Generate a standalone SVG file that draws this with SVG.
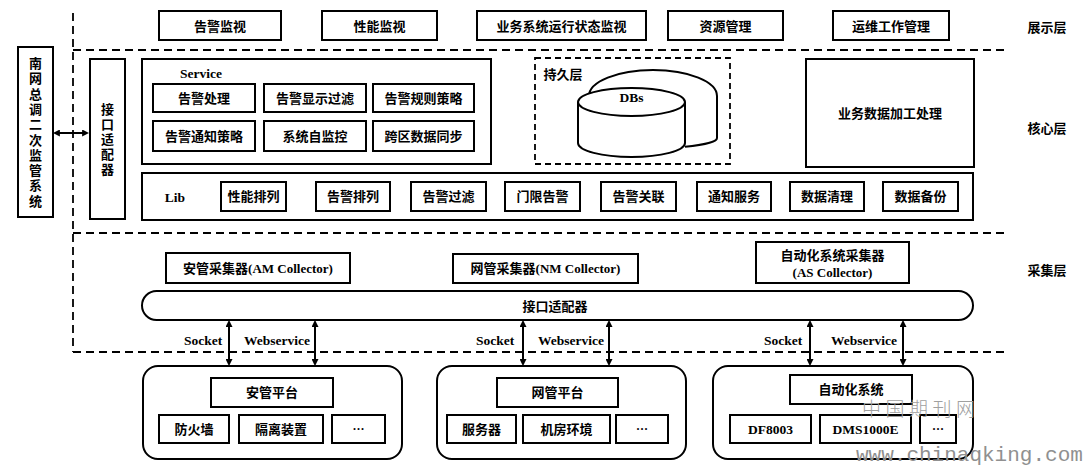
<svg xmlns="http://www.w3.org/2000/svg" width="1087" height="467" viewBox="0 0 1087 467">
<style>
.box{fill:#fff;stroke:#000;stroke-width:2}
.dash{fill:none;stroke:#000;stroke-width:1.8;stroke-dasharray:8 5}
.dash2{fill:none;stroke:#000;stroke-width:1.8;stroke-dasharray:6 4}
.ln{fill:none;stroke:#000;stroke-width:2}
text{font-family:"Liberation Serif","Noto Sans CJK SC",serif;font-weight:bold;font-size:13px;text-anchor:middle;dominant-baseline:central;fill:#000}
.lat{font-size:13.5px}
.dots{font-size:12px}
.wm{font-family:"Noto Sans CJK SC",sans-serif;font-weight:300;font-size:19px;fill:#a0a0a0;text-anchor:start}
.wm2{font-family:"Liberation Mono",monospace;font-weight:normal;font-size:21px;fill:#909090;text-anchor:start;dominant-baseline:auto}
</style>
<defs>
<marker id="ah" viewBox="0 0 10 10" refX="7" refY="5" markerWidth="7" markerHeight="7" orient="auto-start-reverse" markerUnits="userSpaceOnUse"><path d="M0,0 L10,5 L0,10 z" fill="#000"/></marker>
</defs>

<g id="layers">
<line class="dash" x1="73" y1="13" x2="73" y2="352"/>
<line class="dash" x1="73" y1="50" x2="1007" y2="50"/>
<line class="dash" x1="73" y1="233" x2="1007" y2="233"/>
<line class="dash" x1="73" y1="352" x2="1007" y2="352"/>
<text x="1047" y="27">展示层</text>
<text x="1047" y="128">核心层</text>
<text x="1047" y="270">采集层</text>
</g>

<g id="display">
<g id="n-gjjs"><rect class="box" x="159" y="11" width="122" height="29"/><text x="220" y="26">告警监视</text></g>
<g id="n-xnjs"><rect class="box" x="322" y="11" width="115" height="29"/><text x="379.5" y="26">性能监视</text></g>
<g id="n-ywxt"><rect class="box" x="477" y="11" width="169" height="29"/><text x="561.5" y="26">业务系统运行状态监视</text></g>
<g id="n-zygl"><rect class="box" x="668" y="11" width="115" height="29"/><text x="725.5" y="26">资源管理</text></g>
<g id="n-ywgz"><rect class="box" x="833" y="11" width="116" height="29"/><text x="891" y="26">运维工作管理</text></g>
</g>

<g id="n-nanwang"><rect class="box" x="18" y="47" width="35" height="170"/>
<text x="35.5" y="63"><tspan x="35.5" dy="0">南</tspan><tspan x="35.5" dy="15.3">网</tspan><tspan x="35.5" dy="15.3">总</tspan><tspan x="35.5" dy="15.3">调</tspan><tspan x="35.5" dy="15.3">二</tspan><tspan x="35.5" dy="15.3">次</tspan><tspan x="35.5" dy="15.3">监</tspan><tspan x="35.5" dy="15.3">管</tspan><tspan x="35.5" dy="15.3">系</tspan><tspan x="35.5" dy="15.3">统</tspan></text>
</g>

<g id="n-jiekou1"><rect class="box" x="90" y="59" width="35" height="160"/>
<text x="107.5" y="109"><tspan x="107.5" dy="0">接</tspan><tspan x="107.5" dy="15">口</tspan><tspan x="107.5" dy="15">适</tspan><tspan x="107.5" dy="15">配</tspan><tspan x="107.5" dy="15">器</tspan></text>
</g>

<g id="n-service">
<rect class="box" x="142" y="59" width="349" height="105"/>
<text class="lat" x="201" y="73">Service</text>
<rect class="box" x="153" y="84" width="102" height="28"/><text x="204" y="98">告警处理</text>
<rect class="box" x="264" y="84" width="102" height="28"/><text x="315" y="98">告警显示过滤</text>
<rect class="box" x="373" y="84" width="101" height="28"/><text x="423.5" y="98">告警规则策略</text>
<rect class="box" x="153" y="121" width="102" height="30"/><text x="204" y="136">告警通知策略</text>
<rect class="box" x="264" y="121" width="102" height="30"/><text x="315" y="136">系统自监控</text>
<rect class="box" x="373" y="121" width="101" height="30"/><text x="423.5" y="136">跨区数据同步</text>
</g>

<g id="n-persist">
<rect class="dash2" x="535" y="58" width="195" height="106"/>
<text x="563" y="74">持久层</text>
<path class="ln" style="fill:#fff" d="M589,96 A64,26 0 0 1 717,96 L717,138 A64,10 0 0 1 685,146.7"/>
<path class="ln" style="fill:#fff" d="M578,102 A53.5,14 0 0 1 685,102 L685,143 A53.5,14 0 0 1 578,143 Z"/>
<path class="ln" d="M578,102 A53.5,14 0 0 0 685,102"/>
<text class="lat" x="631.5" y="97.5">DBs</text>
</g>

<g id="n-ywsj"><rect class="box" x="806" y="59" width="168" height="108"/><text x="890" y="113">业务数据加工处理</text></g>

<g id="n-lib">
<rect class="box" x="142" y="173" width="831" height="47"/>
<text class="lat" x="175" y="197">Lib</text>
<rect class="box" x="221" y="182" width="65" height="29"/><text x="253.5" y="196.5">性能排列</text>
<rect class="box" x="316" y="182" width="74" height="29"/><text x="353" y="196.5">告警排列</text>
<rect class="box" x="411" y="182" width="75" height="29"/><text x="448.5" y="196.5">告警过滤</text>
<rect class="box" x="505" y="182" width="75" height="29"/><text x="542.5" y="196.5">门限告警</text>
<rect class="box" x="601" y="182" width="75" height="29"/><text x="638.5" y="196.5">告警关联</text>
<rect class="box" x="697" y="182" width="74" height="29"/><text x="734" y="196.5">通知服务</text>
<rect class="box" x="790" y="182" width="74" height="29"/><text x="827" y="196.5">数据清理</text>
<rect class="box" x="883" y="182" width="75" height="29"/><text x="920.5" y="196.5">数据备份</text>
</g>

<g id="collectors">
<g id="n-am"><rect class="box" x="166" y="253" width="184" height="30"/><text x="258" y="268">安管采集器(AM  Collector)</text></g>
<g id="n-nm"><rect class="box" x="453" y="254" width="185" height="29"/><text x="545.5" y="268.5">网管采集器(NM  Collector)</text></g>
<g id="n-as"><rect class="box" x="756" y="242" width="153" height="41"/><text x="832.5" y="255">自动化系统采集器</text><text x="832.5" y="272">(AS  Collector)</text></g>
</g>

<g id="n-adapter"><rect class="box" x="142" y="291" width="831" height="29" rx="14.5"/><text x="555" y="306">接口适配器</text></g>

<g id="n-am-plat">
<rect class="box" x="143" y="366" width="259" height="93" rx="15"/>
<rect class="box" x="211" y="378" width="122" height="29"/><text x="272" y="392.5">安管平台</text>
<rect class="box" x="159" y="415" width="70" height="28"/><text x="194" y="429">防火墙</text>
<rect class="box" x="239" y="415" width="84" height="28"/><text x="281" y="429">隔离装置</text>
<rect class="box" x="332" y="415" width="53" height="28"/><text class="dots" x="358.5" y="428.5">···</text>
</g>

<g id="n-nm-plat">
<rect class="box" x="437" y="366" width="249" height="93" rx="15"/>
<rect class="box" x="497" y="378" width="121" height="29"/><text x="557.5" y="392.5">网管平台</text>
<rect class="box" x="447" y="415" width="69" height="28"/><text x="481.5" y="429">服务器</text>
<rect class="box" x="523" y="415" width="87" height="28"/><text x="566.5" y="429">机房环境</text>
<rect class="box" x="616" y="415" width="52" height="28"/><text class="dots" x="642" y="428.5">···</text>
</g>

<g id="n-as-plat">
<rect class="box" x="713" y="366" width="260" height="93" rx="15"/>
<rect class="box" x="790" y="375" width="122" height="29"/><text x="851" y="389.5">自动化系统</text>
<rect class="box" x="730" y="415" width="81" height="28"/><text class="lat" x="770.5" y="429">DF8003</text>
<rect class="box" x="820" y="415" width="91" height="28"/><text class="lat" x="865.5" y="429">DMS1000E</text>
<rect class="box" x="920" y="415" width="36" height="28"/><text class="dots" x="938" y="428.5">···</text>
</g>

<g id="connectors">
<line class="ln" x1="55" y1="133" x2="87" y2="133" marker-start="url(#ah)" marker-end="url(#ah)"/>
<line class="ln" x1="229" y1="322" x2="229" y2="364" marker-start="url(#ah)" marker-end="url(#ah)"/>
<line class="ln" x1="315" y1="322" x2="315" y2="364" marker-start="url(#ah)" marker-end="url(#ah)"/>
<line class="ln" x1="523" y1="322" x2="523" y2="364" marker-start="url(#ah)" marker-end="url(#ah)"/>
<line class="ln" x1="609" y1="322" x2="609" y2="364" marker-start="url(#ah)" marker-end="url(#ah)"/>
<line class="ln" x1="810" y1="322" x2="810" y2="364" marker-start="url(#ah)" marker-end="url(#ah)"/>
<line class="ln" x1="903" y1="322" x2="903" y2="364" marker-start="url(#ah)" marker-end="url(#ah)"/>
<text class="lat" x="203" y="340">Socket</text>
<text class="lat" x="277" y="340">Webservice</text>
<text class="lat" x="495" y="340">Socket</text>
<text class="lat" x="571" y="340">Webservice</text>
<text class="lat" x="783" y="340">Socket</text>
<text class="lat" x="864" y="340">Webservice</text>
</g>

<g id="watermark">
<text class="wm" x="862" y="407.5" letter-spacing="4.5">中国期刊网</text>
<text class="wm2" x="856" y="461">www.chinaqking.com</text>
</g>
</svg>
